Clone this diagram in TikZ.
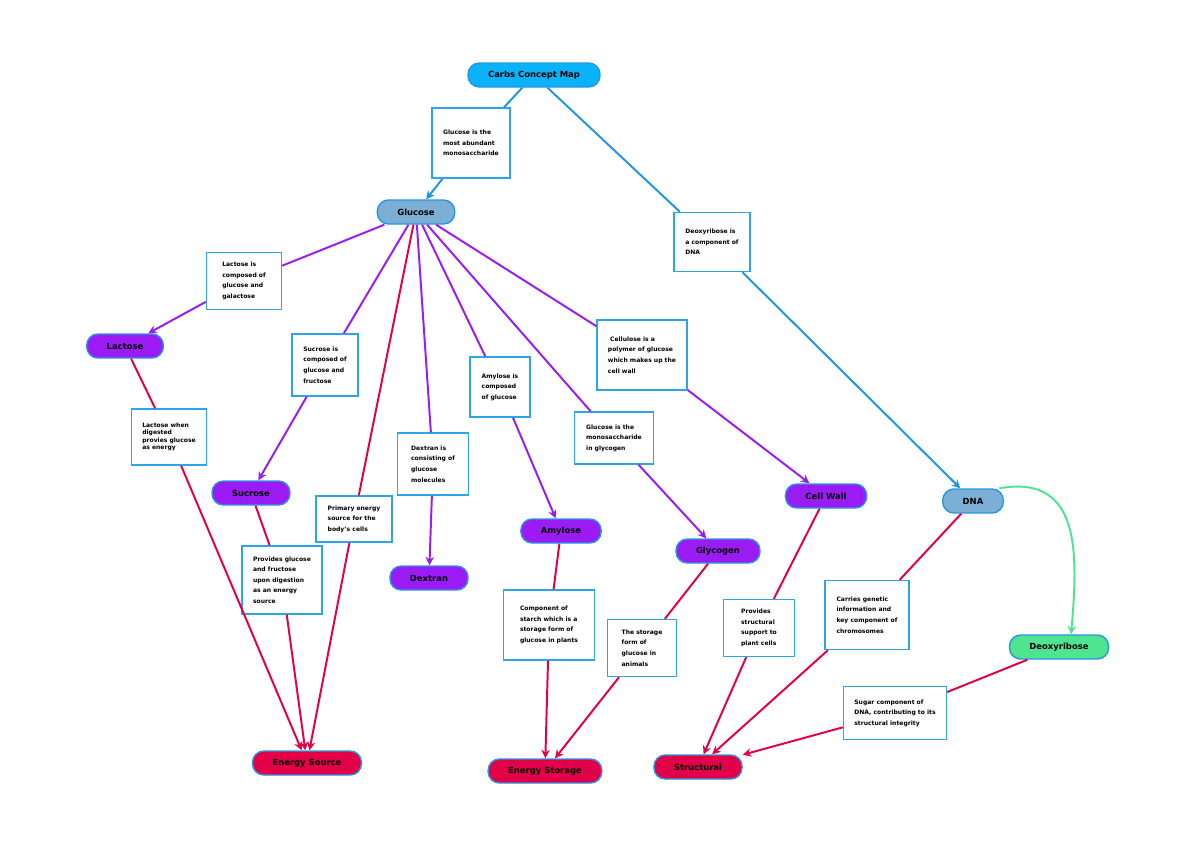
\documentclass[tikz,border=0pt]{standalone}
\usepackage{fontspec}
\setmainfont{DejaVu Sans}
\usetikzlibrary{arrows.meta}
\definecolor{skyBlue}{RGB}{10,178,250}
\definecolor{steelBlue}{RGB}{124,175,214}
\definecolor{rimBlue}{RGB}{40,150,225}
\definecolor{boxBlue}{RGB}{45,165,232}
\definecolor{grape}{RGB}{155,27,245}
\definecolor{crimson}{RGB}{226,0,72}
\definecolor{mint}{RGB}{78,228,144}
\definecolor{lineBlue}{RGB}{30,150,228}
\tikzstyle{topic} = [draw=rimBlue, line width=1pt, rounded corners=.28cm, minimum height=.6cm, inner xsep=.5cm, inner ysep=0pt, font=\fontsize{6}{7}\selectfont\bfseries]
\tikzstyle{note} = [draw=boxBlue, fill=white, line width=1pt, align=left, font=\fontsize{4.3}{7.5}\selectfont\bfseries]
\tikzstyle{ln} = [line width=1.4pt]
\tikzstyle{ar} = [ln, -{Stealth[length=6pt, width=6pt]}]
\tikzset{sz/.style 2 args={minimum width=#1*.025cm, minimum height=#2*.025cm}}

\begin{document}
\begin{tikzpicture}[x=.025cm, y=-.025cm]
    \useasboundingbox (0,0) rectangle (1200,844);

    % the topics
    \node (title) [topic, fill=skyBlue] at (534,75) {Carbs Concept Map};
    \node (glucose) [topic, fill=steelBlue] at (416,212) {Glucose};
    \node (lactose) [topic, fill=grape] at (125,346) {Lactose};
    \node (sucrose) [topic, fill=grape] at (251,493) {Sucrose};
    \node (dextran) [topic, fill=grape] at (429,578) {Dextran};
    \node (amylose) [topic, fill=grape] at (561,531) {Amylose};
    \node (glycogen) [topic, fill=grape] at (718,551) {Glycogen};
    \node (cellWall) [topic, fill=grape] at (826,496) {Cell Wall};
    \node (dna) [topic, fill=steelBlue] at (973,501) {DNA};
    \node (deoxy) [topic, fill=mint] at (1059,647) {Deoxyribose};
    \node (enSource) [topic, fill=crimson] at (307,763) {Energy Source};
    \node (enStorage) [topic, fill=crimson] at (545,771) {Energy Storage};
    \node (structural) [topic, fill=crimson] at (698,767) {Structural};

    % the linking notes
    \node (nMost) [note, sz={78}{70}] at (471,143) {Glucose is the\\most abundant\\monosaccharide};
    \node (nDeoxy) [note, sz={76}{59}] at (712,242) {Deoxyribose is\\a component of\\DNA};
    \node (nLac) [note, sz={75}{57}] at (244,281) {Lactose is\\composed of\\glucose and\\galactose};
    \node (nSuc) [note, sz={66}{62}] at (325,365) {Sucrose is\\composed of\\glucose and\\fructose};
    \node (nLacEn) [note, sz={75}{56}, font=\fontsize{4.3}{5.3}\selectfont\bfseries] at (169,437) {Lactose when\\digested\\provies glucose\\as energy};
    \node (nDex) [note, sz={71}{62}] at (433,464) {Dextran is\\consisting of\\glucose\\molecules};
    \node (nPrim) [note, sz={76}{46}] at (354,519) {Primary energy\\source for the\\body’s cells};
    \node (nProv) [note, sz={80}{68}] at (282,580) {Provides glucose\\and fructose\\upon digestion\\as an energy\\source};
    \node (nAmy) [note, sz={60}{60}] at (500,387) {Amylose is\\composed\\of glucose};
    \node (nCell) [note, sz={90}{70}] at (642,355) {\ Cellulose is a\\polymer of glucose\\which makes up the\\cell wall};
    \node (nGly) [note, sz={79}{52}] at (614,438) {Glucose is the\\monosaccharide\\in glycogen};
    \node (nStarch) [note, sz={91}{70}] at (549,625) {Component of\\starch which is a\\storage form of\\glucose in plants};
    \node (nAnim) [note, sz={69}{57}] at (642,648) {The storage\\form of\\glucose in\\animals};
    \node (nStruct) [note, sz={71}{57}] at (759,628) {Provides\\structural\\support to\\plant cells};
    \node (nGen) [note, sz={84}{69}] at (867,615) {Carries genetic\\information and\\key component of\\chromosomes};
    \node (nSugar) [note, sz={103}{53}] at (895,713) {Sugar component of\\DNA, contributing to its\\structural integrity};

    % links from the title
    \draw [ln, lineBlue] (title) -- (nMost);
    \draw [ar, lineBlue] (nMost) -- (glucose);
    \draw [ln, lineBlue] (title) -- (nDeoxy);
    \draw [ar, lineBlue] (nDeoxy) -- (dna);

    % links from glucose
    \foreach \n/\t in {nLac/lactose, nSuc/sucrose, nDex/dextran, nAmy/amylose, nGly/glycogen, nCell/cellWall}{
        \draw [ln, grape] (glucose) -- (\n);
        \draw [ar, grape] (\n) -- (\t);
    }

    % links to the roles
    \foreach \s/\n/\t in {lactose/nLacEn/enSource, sucrose/nProv/enSource, glucose/nPrim/enSource, amylose/nStarch/enStorage, glycogen/nAnim/enStorage, cellWall/nStruct/structural, dna/nGen/structural, deoxy/nSugar/structural}{
        \draw [ln, crimson] (\s) -- (\n);
        \draw [ar, crimson] (\n) -- (\t);
    }

    \draw [ar, mint] ([xshift=-.12cm]dna.north east) to [out=10, in=85, looseness=1.3] ([xshift=.3cm]deoxy.north);
\end{tikzpicture}
\end{document}
